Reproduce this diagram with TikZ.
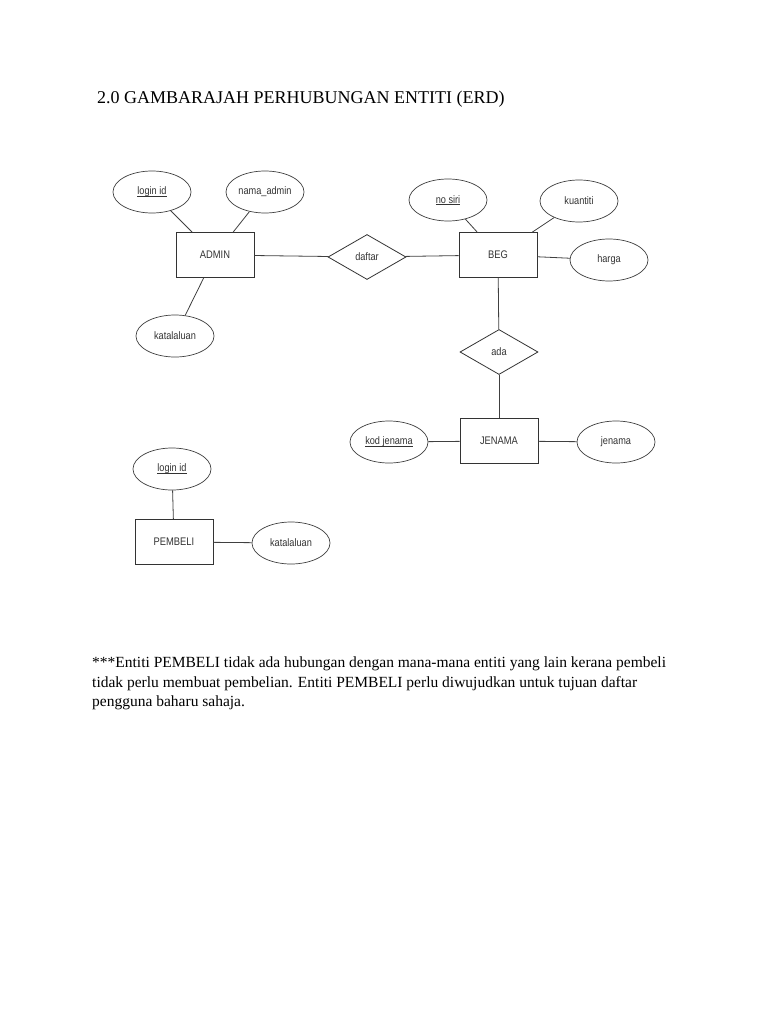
\documentclass[tikz,border=0pt]{standalone}
\usepackage{fontspec}
\setmainfont{Liberation Serif}
\newfontfamily\erdfont[FakeStretch=0.85]{Liberation Sans}
\usetikzlibrary{positioning,shapes.geometric}

% key attributes: underline just below the baseline
\newcommand{\keyattr}[1]{\setbox0\hbox{#1}\rlap{\rule[-1.4pt]{\wd0}{0.5pt}}\box0}

\tikzset{
  entity/.style={draw=black!80, line width=0.8pt, rectangle, minimum width=78pt, minimum height=45pt, inner sep=0pt, font=\erdfont\fontsize{11}{13}\selectfont, text=black!80},
  attrib/.style={draw=black!75, line width=0.7pt, ellipse, minimum width=78pt, minimum height=42pt, inner sep=0pt, font=\erdfont\fontsize{10.8}{12}\selectfont, text=black!80},
  relation/.style={draw=black!80, line width=0.8pt, diamond, minimum width=78pt, minimum height=45pt, inner sep=0pt, font=\erdfont\fontsize{10.8}{12}\selectfont, text=black!80},
  link/.style={draw=black!75, line width=0.8pt}
}

\begin{document}
\begin{tikzpicture}[x=1pt, y=-1pt]
          \useasboundingbox[fill=white] (0,0) rectangle (768,1024);

          % Title
          \node[anchor=base west, inner sep=0pt, font=\fontsize{18}{21}\selectfont] (title) at (97,104) {2.0 GAMBARAJAH PERHUBUNGAN ENTITI (ERD)};

          % Define the entities and relations
          \node[entity] (admin) at (215,255) {ADMIN};
          \node[relation] (daftar) at (367,257) {daftar};
          \node[entity] (beg) at (498,255) {BEG};
          \node[relation] (ada) at (499,352) {ada};
          \node[entity] (jenama) at (499,441) {JENAMA};
          \node[entity] (pembeli) at (174,542) {PEMBELI};

          % Define the attributes
          \node[attrib] (loginid) at (152,192) {\keyattr{login id}};
          \node[attrib] (namaadmin) at (265,192) {nama\_admin};
          \node[attrib] (katalaluan) at (175,336) {katalaluan};
          \node[attrib] (nosiri) at (448,200) {\keyattr{no siri}};
          \node[attrib] (kuantiti) at (579,201) {kuantiti};
          \node[attrib] (harga) at (609,260) {harga};
          \node[attrib] (kodjenama) at (389,442) {\keyattr{kod jenama}};
          \node[attrib] (jenamaatt) at (616,442) {jenama};
          \node[attrib] (loginid2) at (172,469) {\keyattr{login id}};
          \node[attrib] (katalaluan2) at (291,543) {katalaluan};

          % Draw the lines between the nodes
          \draw[link] (loginid) -- (admin);
          \draw[link] (namaadmin) -- (admin);
          \draw[link] (katalaluan) -- (admin);
          \draw[link] (admin) -- (daftar);
          \draw[link] (daftar) -- (beg);
          \draw[link] (nosiri) -- (beg);
          \draw[link] (kuantiti) -- (beg);
          \draw[link] (harga) -- (beg);
          \draw[link] (beg) -- (ada);
          \draw[link] (ada) -- (jenama);
          \draw[link] (kodjenama) -- (jenama);
          \draw[link] (jenama) -- (jenamaatt);
          \draw[link] (loginid2) -- (pembeli);
          \draw[link] (pembeli) -- (katalaluan2);

          % Note below the diagram
          \node[anchor=north west, inner sep=0pt, align=left, font=\fontsize{15.5}{19.5}\selectfont] (note) at (92,657)
            {***Entiti PEMBELI tidak ada hubungan dengan mana-mana entiti yang lain kerana pembeli\\
             tidak perlu membuat pembelian. Entiti PEMBELI perlu diwujudkan untuk tujuan daftar\\
             pengguna baharu sahaja.};

          \end{tikzpicture}
\end{document}
